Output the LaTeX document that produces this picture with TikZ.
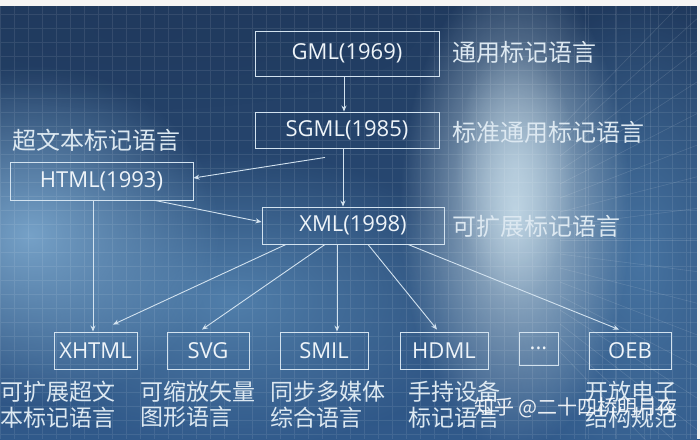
\documentclass[tikz,border=0pt]{standalone}
\usepackage{fontspec}
\setmainfont{Open Sans}
\newfontfamily\cjk{Noto Sans CJK SC}
\usetikzlibrary{arrows.meta,fadings}
\tikzfading[name=glowfade, inner color=transparent!0, outer color=transparent!100]
\definecolor{bgtop}{HTML}{203A5E}
\definecolor{bgbot}{HTML}{30598A}
\definecolor{glowA}{HTML}{C2D8E6}
\definecolor{glowB}{HTML}{7AA6CC}
\definecolor{glowC}{HTML}{5584B0}
\definecolor{glowD}{HTML}{4A78A6}
\definecolor{boxc}{HTML}{D2E2EF}
\definecolor{txtc}{HTML}{EEF4F9}
\definecolor{lblc}{HTML}{DCE8F1}
\tikzset{
  box/.style={draw=boxc, line width=0.9pt, inner sep=0pt, text=txtc,
    font=\fontsize{22}{26}\selectfont},
  arr/.style={draw=boxc, line width=0.9pt, -{Stealth[length=6pt,width=5pt]}},
  toplbl/.style={anchor=west, inner sep=0pt, text=lblc, font=\cjk\fontsize{24}{28}\selectfont},
  botlbl/.style={anchor=west, inner sep=0pt, align=left, text=lblc, font=\cjk\fontsize{23}{25.5}\selectfont},
}
\begin{document}
\begin{tikzpicture}[x=1pt,y=-1pt]
\useasboundingbox (0,0) rectangle (700,439);
% background
\shade[top color=bgtop, bottom color=bgbot] (0,6) rectangle (700,439);
\begin{scope}
\clip (0,6) rectangle (700,439);
\fill[glowD, path fading=glowfade, opacity=0.9] (640,260) ellipse [x radius=140, y radius=260];
\fill[glowC, path fading=glowfade, opacity=0.9] (230,300) ellipse [x radius=260, y radius=150];
\fill[glowB, path fading=glowfade, opacity=0.95] (30,235) ellipse [x radius=190, y radius=170];
\fill[glowA, path fading=glowfade, opacity=0.95] (515,210) ellipse [x radius=115, y radius=240];
\fill[glowA, path fading=glowfade, opacity=0.6] (515,170) ellipse [x radius=60, y radius=130];
\fill[bgtop, path fading=glowfade, opacity=0.6] (140,30) ellipse [x radius=280, y radius=80];
\draw[white, opacity=0.09, line width=0.6pt] (0,6) grid[step=14pt] (700,439);
\foreach \k in {-8,...,8}{
  \draw[white, opacity=0.12, line width=0.6pt] (560,240+14*\k) -- (700,240+32*\k);
}
\foreach \xx in {585,615,650,690}{
  \draw[white, opacity=0.10, line width=0.6pt] (\xx,6) -- (\xx,439);
}
\end{scope}
\fill[white!96!black] (0,0) rectangle (700,6);
\fill[white!94!black] (697,6) rectangle (700,439);
% boxes
\node[box, minimum width=184pt, minimum height=45pt] (gml) at (347,53.5) {GML(1969)};
\node[box, minimum width=184pt, minimum height=36pt] (sgml) at (347,130) {SGML(1985)};
\node[box, minimum width=183pt, minimum height=38pt] (html) at (101.5,181) {HTML(1993)};
\node[box, minimum width=182pt, minimum height=37pt] (xml) at (353,225.5) {XML(1998)};
\node[box, minimum width=83pt, minimum height=37pt] (xhtml) at (95.5,350.5) {XHTML};
\node[box, minimum width=82pt, minimum height=37pt] (svg) at (208,350.5) {SVG};
\node[box, minimum width=88pt, minimum height=37pt] (smil) at (324,350.5) {SMIL};
\node[box, minimum width=88pt, minimum height=37pt] (hdml) at (444,350.5) {HDML};
\node[box, minimum width=39pt, minimum height=33pt] (dots) at (538.5,348.5) {...};
\node[box, minimum width=82pt, minimum height=37pt] (oeb) at (630,350.5) {OEB};
% labels
\node[toplbl] (lgml) at (452,52) {通用标记语言};
\node[toplbl] (lsgml) at (452,132) {标准通用标记语言};
\node[toplbl] (lxml) at (452,226) {可扩展标记语言};
\node[toplbl] (lhtml) at (12,140) {超文本标记语言};
\node[botlbl] (lxhtml) at (0,404.5) {可扩展超文\\本标记语言};
\node[botlbl] (lsvg) at (140,404.5) {可缩放矢量\\图形语言};
\node[botlbl] (lsmil) at (270,404.5) {同步多媒体\\综合语言};
\node[botlbl] (lhdml) at (408,404.5) {手持设备\\标记语言};
\node[botlbl] (loeb) at (585,404.5) {开放电子\\结构规范};
% connectors
\draw[arr] ([xshift=-3pt]gml.south) -- ([xshift=-3pt]sgml.north);
\draw[arr] ([xshift=-22pt,yshift=-9pt]sgml.south) -- ([yshift=3pt]html.east);
\draw[arr] ([xshift=-4pt]sgml.south) -- ([xshift=-4pt]sgml.south |- xml.north);
\draw[arr] ([xshift=53.5pt]html.south) -- ([yshift=3.5pt]xml.west);
\draw[arr] ([xshift=-8.5pt]html.south) -- ([xshift=-8.5pt]html.south |- xhtml.north);
\draw[arr] ([xshift=-67pt]xml.south) -- ([xshift=17.5pt,yshift=7pt]xhtml.north);
\draw[arr] ([xshift=-28pt]xml.south) -- ([xshift=-6pt,yshift=2pt]svg.north);
\draw[arr] ([xshift=-16pt]xml.south) -- ([xshift=-16pt]xml.south |- smil.north);
\draw[arr] ([xshift=15pt]xml.south) -- ([xshift=-7pt,yshift=2pt]hdml.north);
\draw[arr] ([xshift=55pt]xml.south) -- ([xshift=-11pt,yshift=2pt]oeb.north);
% watermark
\node[text=white, opacity=0.9, inner sep=0pt, font=\cjk\fontsize{20}{24}\selectfont] (wm) at (576,408) {知乎 @二十四桥明月夜};
\end{tikzpicture}
\end{document}
